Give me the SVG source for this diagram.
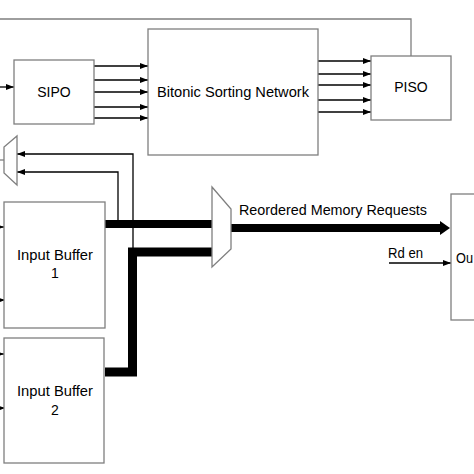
<svg xmlns="http://www.w3.org/2000/svg" width="474" height="474" viewBox="0 0 474 474">
<defs>
<marker id="ah" markerWidth="8" markerHeight="6" refX="8" refY="3" orient="auto" markerUnits="userSpaceOnUse">
<path d="M0,0 L8,3 L0,6 Z" fill="#000"/>
</marker>
<style>
.box{fill:#fff;stroke:#7f7f7f;stroke-width:1.3}
.t{font-family:"Liberation Sans",Arial,sans-serif;font-size:14px;fill:#000}
.w{fill:none;stroke:#000;stroke-width:1.3}
.g{fill:none;stroke:#7f7f7f;stroke-width:1.3}
.bus{fill:none;stroke:#000;stroke-width:8;stroke-linejoin:miter}
</style>
</defs>
<rect width="474" height="474" fill="#fff"/>
<g id="connectors">
<polyline class="g" points="0,19 411,19 411,56"/>
<line class="w" x1="0" y1="87" x2="14" y2="87" marker-end="url(#ah)"/>
<line class="w" x1="94" y1="66" x2="148" y2="66" marker-end="url(#ah)"/>
<line class="w" x1="94" y1="80" x2="148" y2="80" marker-end="url(#ah)"/>
<line class="w" x1="94" y1="92" x2="148" y2="92" marker-end="url(#ah)"/>
<line class="w" x1="94" y1="107" x2="148" y2="107" marker-end="url(#ah)"/>
<line class="w" x1="94" y1="118" x2="148" y2="118" marker-end="url(#ah)"/>
<line class="w" x1="318" y1="61" x2="371" y2="61" marker-end="url(#ah)"/>
<line class="w" x1="318" y1="74" x2="371" y2="74" marker-end="url(#ah)"/>
<line class="w" x1="318" y1="85" x2="371" y2="85" marker-end="url(#ah)"/>
<line class="w" x1="318" y1="100" x2="371" y2="100" marker-end="url(#ah)"/>
<line class="w" x1="318" y1="112" x2="371" y2="112" marker-end="url(#ah)"/>
<polyline class="w" points="133,250 133,154 17,154" marker-end="url(#ah)"/>
<polyline class="w" points="118,224 118,172 17,172" marker-end="url(#ah)"/>
<line class="g" x1="0" y1="160" x2="4" y2="160"/>
<line class="bus" x1="105" y1="224" x2="212" y2="224"/>
<polyline class="bus" points="105,372 132.5,372 132.5,252 212,252" style="stroke-width:9"/>
<line class="bus" x1="231" y1="228" x2="442" y2="228"/>
<polygon points="440,221 450,228 440,235" fill="#000"/>
<line class="w" x1="389" y1="263" x2="451" y2="263" marker-end="url(#ah)"/>
<line class="w" x1="0" y1="227" x2="4" y2="227" marker-end="url(#ah)"/>
<line class="w" x1="0" y1="300" x2="5" y2="300" marker-end="url(#ah)"/>
<line class="w" x1="0" y1="354" x2="4" y2="354" marker-end="url(#ah)"/>
<line class="w" x1="0" y1="408" x2="5" y2="408" marker-end="url(#ah)"/>
</g>
<g id="sipo">
<rect class="box" x="14" y="60" width="80" height="64"/>
<text class="t" x="54" y="97" text-anchor="middle">SIPO</text>
</g>
<g id="bitonic">
<rect class="box" x="148" y="29" width="170" height="126"/>
<text class="t" x="233" y="97" text-anchor="middle" textLength="152" lengthAdjust="spacingAndGlyphs">Bitonic Sorting Network</text>
</g>
<g id="piso">
<rect class="box" x="371" y="56" width="80" height="64"/>
<text class="t" x="411" y="92" text-anchor="middle">PISO</text>
</g>
<g id="mux-left">
<polygon class="box" points="17,136 17,185 4,173 4,147"/>
</g>
<g id="mux-main">
<polygon class="box" points="212,187 231,209 231,249 212,267"/>
</g>
<g id="input-buffer-1">
<rect class="box" x="4" y="202" width="101" height="126"/>
<text class="t" x="55" y="260" text-anchor="middle" textLength="76" lengthAdjust="spacingAndGlyphs">Input Buffer</text>
<text class="t" x="55" y="278" text-anchor="middle">1</text>
</g>
<g id="input-buffer-2">
<rect class="box" x="4" y="338" width="100" height="125"/>
<text class="t" x="55" y="396" text-anchor="middle" textLength="76" lengthAdjust="spacingAndGlyphs">Input Buffer</text>
<text class="t" x="55" y="415" text-anchor="middle">2</text>
</g>
<g id="output">
<rect class="box" x="451" y="194" width="40" height="126"/>
<text class="t" x="456" y="263" textLength="17" lengthAdjust="spacingAndGlyphs">Ou</text>
</g>
<g id="labels">
<text class="t" x="239" y="215" textLength="188" lengthAdjust="spacingAndGlyphs">Reordered Memory Requests</text>
<text class="t" x="388" y="258" textLength="35" lengthAdjust="spacingAndGlyphs">Rd en</text>
</g>
</svg>
